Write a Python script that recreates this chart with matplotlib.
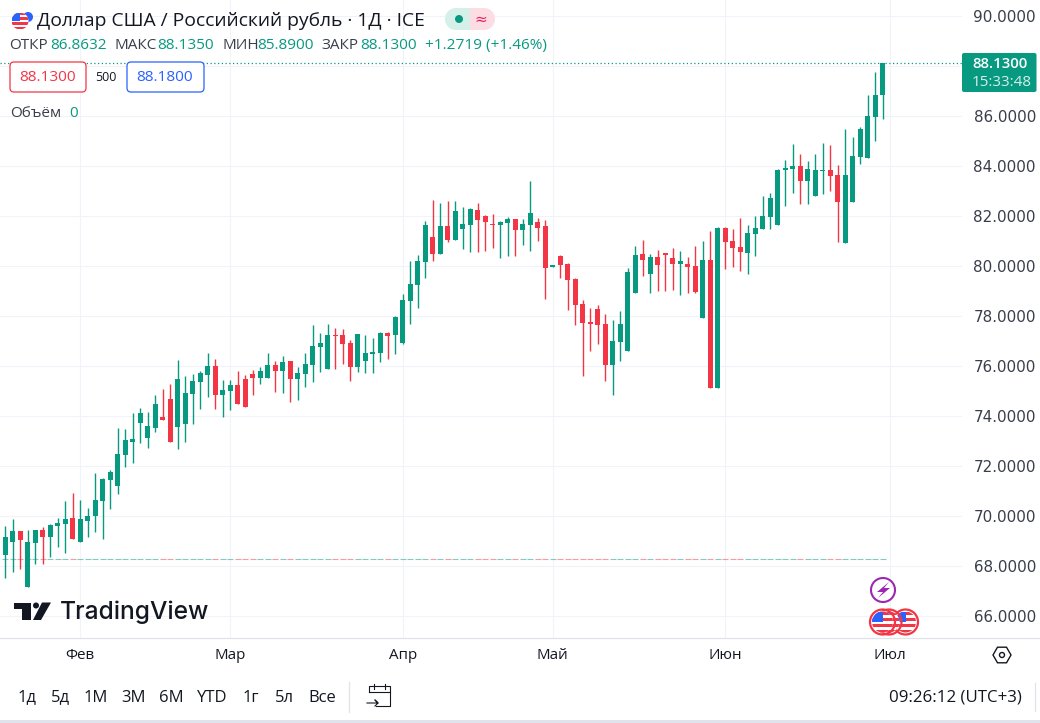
#!/usr/bin/python3
import matplotlib
matplotlib.use("Agg")
import matplotlib.pyplot as plt
from matplotlib.patches import Circle, FancyBboxPatch, Polygon, Rectangle, RegularPolygon
import numpy as np

plt.rcParams['font.family'] = ['Open Sans', 'DejaVu Sans']

# daily candles
opens = [68.46, 68.98, 69.42, 67.18, 68.94, 69.46, 69.18, 69.62, 69.70, 69.94,
         68.98, 69.82, 70.02, 70.62, 71.46, 71.22, 72.46, 72.98, 73.74, 73.14,
         73.54, 73.98, 74.70, 73.58, 73.70, 74.90, 75.38, 75.66, 76.02, 74.86,
         75.02, 75.26, 75.50, 75.70, 75.54, 75.54, 76.06, 75.82, 76.22, 75.50,
         75.70, 76.06, 76.78, 75.90, 77.26, 77.26, 76.94, 75.98, 76.22, 76.50,
         76.54, 77.34, 77.26, 76.94, 78.62, 79.26, 80.18, 81.18, 80.50, 81.62,
         81.06, 81.50, 81.66, 82.26, 82.02, 81.70, 81.66, 81.74, 81.90, 81.46,
         81.66, 81.78, 81.62, 79.98, 80.42, 80.10, 79.50, 78.50, 77.78, 78.30,
         77.70, 76.06, 76.98, 76.62, 78.94, 80.50, 79.70, 80.38, 80.54, 80.34,
         80.10, 80.10, 80.02, 77.94, 80.26, 75.14, 81.54, 81.02, 80.78, 80.54,
         81.30, 81.50, 81.98, 81.66, 83.86, 83.90, 84.02, 83.42, 82.82, 83.82,
         83.86, 83.66, 80.94, 82.58, 84.38, 84.34, 85.98, 86.8632]
highs = [69.63, 69.90, 69.42, 69.46, 69.46, 69.58, 69.70, 69.94, 70.62, 70.94,
         70.66, 70.34, 71.73, 71.54, 71.86, 73.54, 73.50, 74.14, 74.34, 74.18,
         74.86, 75.10, 75.30, 76.26, 75.62, 75.70, 75.82, 76.54, 76.30, 75.46,
         75.46, 75.82, 75.66, 75.86, 75.98, 76.54, 76.22, 76.42, 76.22, 75.98,
         76.54, 77.66, 77.34, 77.70, 77.54, 77.50, 77.06, 77.29, 77.26, 77.14,
         77.38, 77.38, 78.02, 78.90, 80.22, 80.46, 81.82, 82.66, 82.54, 82.62,
         82.62, 82.38, 82.34, 82.54, 82.06, 82.10, 81.82, 81.98, 81.90, 81.90,
         83.42, 81.94, 81.86, 80.06, 80.46, 80.14, 79.54, 78.66, 78.34, 78.46,
         78.10, 77.86, 78.22, 79.94, 80.82, 81.06, 80.50, 80.66, 80.54, 80.74,
         80.62, 80.38, 80.82, 81.02, 81.42, 81.58, 81.58, 81.50, 81.94, 81.66,
         82.02, 82.82, 82.94, 83.90, 84.26, 84.90, 84.50, 84.22, 84.50, 84.94,
         84.86, 84.06, 85.50, 85.18, 85.58, 86.86, 87.78, 88.135]
lows = [67.54, 67.78, 67.89, 67.18, 68.10, 68.10, 68.38, 68.78, 68.54, 69.10,
        68.98, 69.18, 69.38, 69.10, 70.30, 70.90, 71.98, 72.14, 72.94, 72.74,
        73.38, 73.86, 72.98, 72.70, 72.98, 73.70, 74.30, 74.78, 74.30, 73.98,
        74.26, 74.50, 74.38, 74.86, 75.30, 75.54, 74.98, 74.94, 74.58, 74.66,
        75.18, 75.38, 75.78, 75.90, 75.90, 76.10, 75.42, 75.78, 75.74, 75.74,
        76.18, 76.30, 76.50, 76.90, 77.70, 78.34, 79.54, 80.22, 80.50, 80.98,
        81.06, 80.70, 80.58, 80.58, 80.62, 80.74, 80.34, 80.42, 80.42, 80.86,
        80.62, 81.02, 78.70, 79.98, 79.54, 78.26, 77.66, 75.62, 76.62, 76.90,
        75.42, 74.86, 76.22, 76.62, 78.94, 79.62, 78.94, 79.02, 79.02, 79.06,
        78.86, 78.94, 78.94, 77.94, 75.14, 75.14, 79.90, 79.98, 79.82, 79.70,
        80.42, 81.50, 81.50, 81.66, 82.42, 82.94, 82.50, 82.50, 82.82, 82.90,
        83.02, 80.98, 80.94, 82.58, 84.10, 84.34, 85.02, 85.89]
closes = [69.19, 69.42, 69.06, 68.98, 69.46, 69.18, 69.66, 69.74, 69.90, 69.10,
          69.90, 70.02, 70.66, 71.50, 71.78, 72.50, 73.06, 73.10, 74.14, 73.62,
          74.50, 73.86, 72.98, 75.50, 74.94, 75.42, 75.74, 76.02, 74.86, 75.06,
          75.26, 74.50, 74.38, 75.54, 75.82, 76.06, 75.82, 76.18, 75.50, 75.74,
          76.10, 76.82, 76.94, 77.26, 77.22, 76.90, 75.98, 77.29, 76.54, 76.58,
          77.34, 77.22, 77.98, 78.66, 79.30, 80.22, 81.66, 80.50, 81.62, 81.06,
          82.22, 81.70, 82.30, 81.86, 81.78, 81.66, 81.78, 81.90, 81.46, 81.70,
          82.14, 81.54, 79.94, 80.06, 80.06, 79.46, 78.46, 77.74, 77.70, 77.66,
          76.06, 77.02, 77.70, 79.78, 80.46, 80.26, 80.38, 80.06, 80.46, 80.10,
          80.22, 79.98, 78.98, 80.26, 75.14, 81.54, 80.98, 80.74, 80.58, 81.34,
          81.54, 82.02, 82.74, 83.86, 83.94, 84.02, 83.42, 83.90, 83.86, 83.86,
          83.62, 82.58, 83.66, 84.42, 85.50, 86.02, 86.86, 88.13]

volume_level = 68.32
last_price = 88.13
price_ticks = [66, 68, 70, 72, 74, 76, 78, 80, 82, 84, 86, 88, 90]
month_pos = [10, 30, 53, 73, 96, 118]
month_labels = ['Фев', 'Мар', 'Апр', 'Май', 'Июн', 'Июл']

GREEN = '#089981'
RED = '#f23645'
GRID = '#f0f3fa'
DARK = '#131722'
GREY = '#3a3e4a'

fig = plt.figure(figsize=(10.4, 7.23), dpi=100)
W, H = 1040.0, 723.0

# chart pane, 25 px per rouble and 7.5 px per bar
ax = fig.add_axes([0, 1 - 638 / H, 962 / W, 638 / H])
ax.set_xlim(-0.707, 127.56)
ax.set_ylim(65.14, 90.66)
for s in ax.spines.values():
    s.set_visible(False)
ax.set_xticks(month_pos)
ax.set_yticks(price_ticks)
ax.tick_params(length=0, labelbottom=False, labelleft=False)
ax.grid(True, color=GRID, lw=0.8)
ax.set_axisbelow(True)

opens = np.array(opens)
closes = np.array(closes)
x = np.arange(len(opens))
colors = [GREEN if c >= o else RED for o, c in zip(opens, closes)]

ax.hlines(np.full(len(x), volume_level), x - 0.38, x + 0.38, colors=colors, lw=0.8, alpha=0.5, zorder=2)
ax.vlines(x, lows, highs, colors=colors, lw=1.0, zorder=3, snap=True)
ax.bar(x, np.abs(closes - opens), bottom=np.minimum(opens, closes), width=0.7,
       color=colors, lw=0, zorder=4)
ax.axhline(last_price, color=GREEN, lw=0.9, ls=(0, (1, 2)), zorder=2)

# everything around the chart is laid out in screen pixels
ui = fig.add_axes([0, 0, 1, 1], facecolor='none')
ui.set_xlim(0, W)
ui.set_ylim(H, 0)
ui.axis('off')


def label(px, py, s, size=11, color=DARK, ha='left', **kw):
    ui.text(px, py + 1.5, s, fontsize=size, color=color, ha=ha, va='center', **kw)


def flag(cx, cy, r, ring=True):
    clip = Circle((cx, cy), r, transform=ui.transData)
    ui.add_patch(Circle((cx, cy), r, fc='white', ec='none', zorder=5))
    stripe = r / 3.5
    for k in range(4):
        bar = Rectangle((cx - r, cy - r + k * 2 * stripe), 2 * r, stripe, fc=RED, ec='none', zorder=5)
        ui.add_patch(bar)
        bar.set_clip_path(clip)
    canton = Rectangle((cx - r, cy - r), r, r, fc='#2962ff', ec='none', zorder=5)
    ui.add_patch(canton)
    canton.set_clip_path(clip)
    if ring:
        ui.add_patch(Circle((cx, cy), r + 2, fc='none', ec=RED, lw=1.6, zorder=5))


# price scale, 88 sits under the last price tag
for p in price_ticks:
    if p != 88:
        label(1036, (90.66 - p) * 25 - 0.5, '%.4f' % p, size=10.9, color=GREY, ha='right',
              family=['DejaVu Sans'])
ui.add_patch(FancyBboxPatch((962, 53), 74.5, 39, boxstyle='round,pad=0,rounding_size=2',
                            fc=GREEN, ec='none', zorder=6))
label(972, 62.5, '88.1300', size=10.8, color='white', weight='semibold', zorder=7)
label(972, 81, '15:33:48', size=11, color='#d5f0ea', zorder=7)

# header
ui.add_patch(Circle((28, 17), 5, fc='#2962ff', ec='none', zorder=4))
flag(20, 21, 8.5, ring=False)
label(37, 19, 'Доллар США / Российский рубль · 1Д · ICE', size=13.9)
ui.add_patch(Rectangle((456, 8), 14, 22, fc='#d5efe9', ec='none'))
ui.add_patch(Circle((456, 19), 11, fc='#d5efe9', ec='none'))
ui.add_patch(Rectangle((470, 8), 14, 22, fc='#fcdde3', ec='none'))
ui.add_patch(Circle((484, 19), 11, fc='#fcdde3', ec='none'))
ui.add_patch(Circle((459, 19), 4, fc=GREEN, ec='none'))
label(481, 18, '≈', size=11, color='#e91e63', ha='center', family=['DejaVu Sans'])

ohlc_titles = [(9, 'ОТКР'), (115, 'МАКС'), (222, 'МИН'), (321, 'ЗАКР')]
ohlc_values = [(50, '86.8632'), (157, '88.1350'), (257, '85.8900'), (360, '88.1300'),
               (425, '+1.2719 (+1.46%)')]
for px, s in ohlc_titles:
    label(px, 44, s, size=11, color=GREY)
for px, s in ohlc_values:
    label(px, 44, s, size=11.1, color=GREEN)

ui.add_patch(FancyBboxPatch((10, 62), 76, 30, boxstyle='round,pad=0,rounding_size=4',
                            fc='white', ec=RED, lw=0.9, zorder=5))
label(48, 76, '88.1300', size=11.1, color=RED, ha='center', zorder=6)
label(106, 76, '500', size=9, ha='center')
ui.add_patch(FancyBboxPatch((127, 62), 77, 30, boxstyle='round,pad=0,rounding_size=4',
                            fc='white', ec='#2962ff', lw=0.9, zorder=5))
label(165, 76, '88.1800', size=11.1, color='#2962ff', ha='center', zorder=6)
label(10, 112, 'Объём', size=11, color=GREY)
label(69, 112, '0', size=11, color=GREEN)

# logo
ui.add_patch(Polygon([(14, 602.5), (31, 602.5), (31, 620), (22, 620), (22, 608.5), (14, 608.5)],
                     fc=DARK, ec='none'))
ui.add_patch(Circle((36, 605.5), 3, fc=DARK, ec='none'))
ui.add_patch(Polygon([(42, 602.5), (51, 602.5), (41, 620), (33, 620)], fc=DARK, ec='none'))
label(60, 610.5, 'TradingView', size=17.7, weight='medium', family=['Inter', 'DejaVu Sans'])

# event markers
ui.add_patch(Circle((883, 590), 12, fc='white', ec='#9c27b0', lw=1.5, zorder=5))
ui.add_patch(Polygon([(889, 582), (877, 592), (883, 592), (878, 598), (890, 588), (884, 588)],
                     fc='#9c27b0', ec='none', zorder=6))
flag(905.5, 622, 10.5)
flag(889, 622, 10.5)
flag(882.5, 622, 10.5)

# time scale
ui.plot([0, W], [638, 638], color='#e0e3eb', lw=0.9)
for px, s in zip(month_pos, month_labels):
    label(5.3 + 7.5 * px, 654, s, size=10.9, ha='center', weight='medium')
ui.add_patch(RegularPolygon((1002, 655), 6, radius=9, orientation=np.pi / 2, fc='white', ec=DARK, lw=1))
ui.add_patch(Circle((1002, 655), 2.5, fc='white', ec=DARK, lw=1))

# bottom toolbar
range_pos = [27, 61, 96, 134, 171, 212, 251, 284, 322]
range_labels = ['1д', '5д', '1М', '3М', '6М', 'YTD', '1г', '5л', 'Все']
for px, s in zip(range_pos, range_labels):
    label(px, 696, s, size=12, ha='center')
ui.plot([349, 349], [682, 712], color='#e0e3eb', lw=0.9)
ui.plot([369, 369, 390, 390, 376], [692, 686, 686, 706, 706], color=DARK, lw=0.8)
ui.plot([369, 390], [692, 692], color=DARK, lw=0.8)
ui.plot([374, 374], [684, 689], color=DARK, lw=0.8)
ui.plot([385, 385], [684, 689], color=DARK, lw=0.8)
ui.plot([367, 378, 375, 378, 375], [703, 703, 700, 703, 706], color=DARK, lw=0.8)
label(1022, 696, '09:26:12 (UTC+3)', size=12.2, ha='right')
ui.plot([1035, 1035], [683, 711], color='#e0e3eb', lw=0.9)
ui.add_patch(Rectangle((0, 720), W, 3, fc='#e0e3eb', ec='none'))

fig.savefig('out.png', dpi=100)
